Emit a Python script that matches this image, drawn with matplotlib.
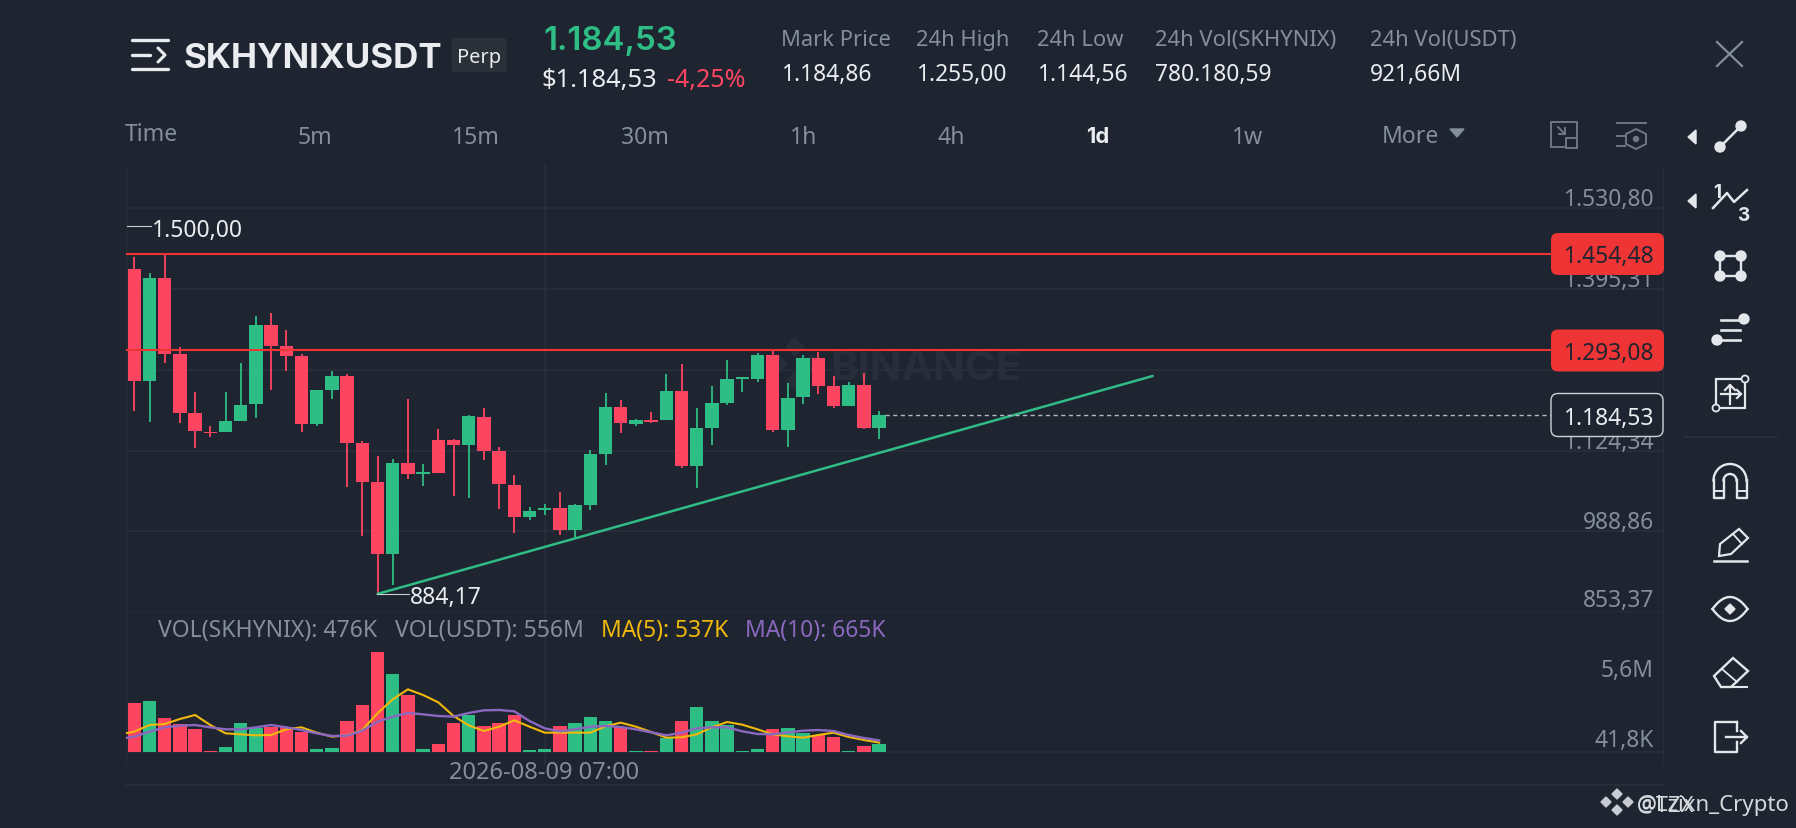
import matplotlib
matplotlib.use("Agg")
import matplotlib.pyplot as plt
from matplotlib.patches import FancyBboxPatch, Circle, Polygon, Rectangle
import numpy as np

plt.rcParams['font.family'] = ['Noto Sans', 'DejaVu Sans']
BOLD = ['Inter', 'DejaVu Sans']

W, H = 1796, 828
BG = '#1e2530'; GRID = '#2a303b'; RED = '#fd4561'; GREEN = '#2ebd85'
LINE_RED = '#ee3434'; GREY = '#848e9c'; LIGHT = '#eaecef'; YEL = '#f0b90b'; PUR = '#8a68c0'

# --- data ---
body_top = [1429.0,1413.4,1413.4,1286.5,1187.0,1156.3,1173.6,1201.5,1335.1,1335.1,
            1299.3,1283.1,1225.6,1249.0,1249.0,1136.7,1071.3,1103.2,1103.2,1088.1,
            1142.9,1142.9,1182.0,1181.4,1123.3,1067.4,1023.8,1028.3,1028.8,1033.3,
            1118.3,1197.6,1197.6,1175.3,1175.3,1225.0,1225.0,1161.9,1204.3,1244.6,
            1247.9,1285.4,1285.4,1212.7,1280.3,1280.3,1233.4,1235.1,1235.1,1184.53]
body_bottom = [1241.2,1241.2,1287.1,1188.1,1156.8,1153.5,1155.1,1174.7,1202.1,1299.3,
               1283.7,1169.1,1169.1,1226.1,1137.8,1071.9,951.7,951.7,1085.9,1085.9,
               1087.0,1133.3,1133.3,1123.9,1068.0,1012.6,1012.6,1024.9,990.8,990.8,
               1033.9,1118.8,1170.2,1169.7,1172.5,1175.3,1098.7,1098.7,1162.4,1204.9,
               1245.1,1245.1,1159.1,1159.1,1213.8,1233.0,1199.3,1199.3,1163.0,1163.0]
highs = [1448.6,1421.7,1454.2,1298.8,1222.2,1165.8,1223.3,1270.8,1350.8,1354.7,
         1326.7,1285.9,1226.1,1257.4,1253.5,1141.2,1114.9,1109.9,1210.5,1102.6,
         1160.7,1143.4,1183.6,1195.9,1130.0,1083.6,1030.0,1034.4,1055.7,1035.0,
         1125.0,1221.1,1208.8,1178.1,1188.7,1253.0,1269.7,1195.4,1232.8,1277.0,
         1248.5,1288.7,1291.0,1237.9,1284.8,1289.8,1249.6,1239.5,1254.1,1190.9]
lows = [1190.9,1173.0,1272.0,1171.4,1128.9,1146.8,1155.1,1173.6,1179.8,1226.1,
        1257.4,1156.3,1165.8,1210.5,1062.9,981.9,884.17,899.7,1077.5,1065.7,
        1087.0,1048.4,1045.6,1108.8,1026.0,986.9,1008.2,1016.0,982.4,977.4,
        1024.4,1099.8,1154.6,1166.3,1170.2,1175.3,1094.8,1062.4,1134.5,1201.0,
        1222.8,1239.5,1156.3,1130.6,1202.1,1219.4,1195.4,1199.3,1161.3,1144.5]
is_up = [0,1,0,0,0,0,1,1,1,0,0,0,1,1,0,0,0,1,0,1,0,0,1,0,0,
         0,1,1,0,1,1,1,0,1,0,1,0,1,1,1,1,1,0,1,1,0,0,1,0,1]
volume_k = [2789,2903,1929,1585,1318,42,287,1681,1394,1413,1413,1127,191,248,1795,
            2712,5711,4469,3247,153,439,1662,2139,1509,1643,2120,134,172,1471,1681,
            1986,1795,1433,42,42,783,1757,2598,1795,1528,42,191,1318,1356,1070,
            974,860,30,344,476]
ma5_k = [1165,1547,1604,1891,2120,1547,1070,1012,955,974,1299,1413,1108,879,955,
         1261,2216,3018,3591,3266,2846,2063,1528,1203,1452,1815,1452,1108,1108,1108,
         1108,1471,1681,1452,1146,821,840,1012,1413,1719,1566,1299,1012,898,821,
         974,1108,860,688,537]
ma10_k = [879,1165,1413,1509,1547,1413,1299,1299,1413,1547,1413,1261,1070,917,936,
          1222,1738,2025,2235,2158,2063,2025,2235,2388,2407,2330,1776,1356,1184,1299,
          1452,1490,1433,1299,1127,955,1108,1356,1413,1413,1184,1031,1012,1127,1222,
          1261,1203,974,802,665]
ma5_left_edge = 1070
ma10_left_edge = 800
grid_prices = [1530.80,1395.31,1259.83,1124.34,988.86,853.37]
axis_labels = ['1.530,80','1.395,31','','1.124,34','988,86','853,37']
resistance = [1454.48,1293.08]
resistance_labels = ['1.454,48','1.293,08']
last_price = 1184.53
trend_x = [16,67]; trend_y = [884.17,1249.6]
stat_labels = ['Mark Price','24h High','24h Low','24h Vol(SKHYNIX)','24h Vol(USDT)']
stat_values = ['1.184,86','1.255,00','1.144,56','780.180,59','921,66M']
stat_x = [781,916,1037,1155,1370]
tabs = ['5m','15m','30m','1h','4h','1d','1w']
tab_x = [315,476,645,804,951,1098,1248]

fig = plt.figure(figsize=((W+0.01)/100,(H+0.01)/100),dpi=100,facecolor=BG)
def axpx(l,t,r,b,**k):
    return fig.add_axes([l/W,1-b/H,(r-l)/W,(b-t)/H],**k)

# background layer for the faint watermark
bg = fig.add_axes([0,0,1,1],facecolor='none',zorder=0)
bg.set_xlim(0,W); bg.set_ylim(H,0); bg.axis('off')

# geometry: x px = 134.3 + 15.2*i
L,R = 125.7,1664.0
xlim = ((L-134.3)/15.2,(R-134.3)/15.2)
ax = axpx(L,165,R,612.3,facecolor='none',zorder=2)
ax.set_xlim(*xlim); ax.set_ylim(853.37,1530.8+(208.3-165)*1.6766)
vol = axpx(L,612.3,R,765,facecolor='none',zorder=2)
vol.set_xlim(*xlim); vol.set_ylim(-13*57.3,139.7*57.3+0.3)
for a in (ax,vol):
    a.set_xticks([]); a.set_yticks([])
    for s in a.spines.values(): s.set_visible(False)
ov = fig.add_axes([0,0,1,1],facecolor='none',zorder=5)
ov.set_xlim(0,W); ov.set_ylim(H,0); ov.axis('off')

def T(x,y,s,px,c=GREY,ha='left',w='normal',z=6,on=None,**k):
    return (on or ov).text(x,y,s,fontsize=px*0.72,color=c,ha=ha,va='center_baseline',fontweight=w,zorder=z,**k)

# grid
for p in grid_prices:
    ax.axhline(p,color=GRID,lw=1.1,zorder=1)
for a in (ax,vol):
    a.axvline(27,color=GRID,lw=1.1,zorder=1)
    a.axvline(xlim[0],color=GRID,lw=1.4,zorder=1)
    a.axvline(xlim[1],color=GRID,lw=1.4,zorder=1)
vol.axhline(0,color=GRID,lw=1.1,zorder=1)
ov.plot([L,R],[785,785],color=GRID,lw=1.1)

# watermark
WM = '#272e39'
T(830,365,'BINANCE',42,WM,w='bold',on=bg,family=BOLD)
for dx,dy in [(0,-17),(-17,0),(17,0),(0,17)]:
    bg.add_patch(Polygon([(795+dx,364+dy-9),(795+dx+9,364+dy),(795+dx,364+dy+9),(795+dx-9,364+dy)],color=WM))

# candles
idx = list(range(len(highs)))
for i in idx:
    c = GREEN if is_up[i] else RED
    ax.vlines(i,lows[i],highs[i],color=c,lw=1.3,zorder=3)
    ax.bar(i,body_top[i]-body_bottom[i],bottom=body_bottom[i],width=0.875,color=c,lw=0,zorder=3)

# lines
for p in resistance:
    ax.axhline(p,color=LINE_RED,lw=1.5,zorder=4)
ax.plot(trend_x,trend_y,color=GREEN,lw=1.8,zorder=4,solid_capstyle='round')
ax.plot([49.4,100.7],[last_price,last_price],color='#b4bac2',lw=1.0,ls=(0,(3,2.5)),zorder=4)

# volume
for i in idx:
    vol.bar(i,volume_k[i],width=0.875,color=GREEN if is_up[i] else RED,lw=0,zorder=3)
vol.plot([xlim[0]]+idx,[ma5_left_edge]+ma5_k,color=YEL,lw=1.5,zorder=4)
vol.plot([xlim[0]]+idx,[ma10_left_edge]+ma10_k,color=PUR,lw=1.7,zorder=4)

# axis labels
AX_PX = 22.8; AX_R = 1654
for s,y in zip(axis_labels,[197,278,0,440,520,598]):
    if s: T(AX_R,y,s,AX_PX,GREY,ha='right',z=4)
T(AX_R,668,'5,6M',AX_PX,GREY,ha='right')
T(AX_R,738,'41,8K',AX_PX,GREY,ha='right')
T(544,770,'2026-08-09 07:00',23.7,GREY,ha='center')

# price tags
for p,s in zip(resistance,resistance_labels):
    yc = 254 if p>1400 else 350.5
    ov.add_patch(FancyBboxPatch((1551,yc-21),113,42,boxstyle='round,pad=0,rounding_size=7',lw=0,color=LINE_RED,zorder=5))
    T(AX_R,yc,s,AX_PX,BG,ha='right')
ov.add_patch(FancyBboxPatch((1551,393.5),112,43,boxstyle='round,pad=0,rounding_size=7',lw=1,ec='#cfd3d8',fc=BG,zorder=5))
T(AX_R,416,'1.184,53',AX_PX,LIGHT,ha='right')
# marks
T(152,228,'1.500,00',23,LIGHT)
ov.plot([127,151],[226,226],color='#c8ccd2',lw=0.8)
T(410,595,'884,17',23,LIGHT)
ov.plot([377,409],[594,594],color='#c8ccd2',lw=0.8)

# legend
T(158,628,'VOL(SKHYNIX): 476K',23,GREY)
T(395,628,'VOL(USDT): 556M',23,GREY)
T(600.5,628,'MA(5): 537K',22.8,YEL)
T(745,628,'MA(10): 665K',22.8,PUR)

# header
for yy,x1 in [(40,168),(55,150),(69,168)]:
    ov.plot([132,x1],[yy,yy],color=LIGHT,lw=2.4,solid_capstyle='round')
ov.plot([157,165,157],[47,55,63],color=BG,lw=5)
ov.plot([158,165,158],[48,55,62],color=LIGHT,lw=2.2,solid_capstyle='round')
T(183,55,'SKHYNIXUSDT',35,LIGHT,w='bold',family=BOLD)
ov.add_patch(FancyBboxPatch((451.5,38),55,34,boxstyle='round,pad=0,rounding_size=3',lw=0,color='#2b3139',zorder=5))
T(479,55,'Perp',20,LIGHT,ha='center')
T(543,38,'1.184,53',33,GREEN,w='semibold',family=BOLD)
T(541,77,'$1.184,53',25.5,LIGHT)
T(667,77,'-4,25%',25,RED)
for x,a,b in zip(stat_x,stat_labels,stat_values):
    T(x,38,a,22,GREY)
    T(x,72,b,22.8,LIGHT)
ov.plot([1717,1742],[42,66],color=GREY,lw=1.6); ov.plot([1717,1742],[66,42],color=GREY,lw=1.6)

# tabs
T(125,132,'Time',23,GREY)
for s,x in zip(tabs,tab_x):
    sel = s=='1d'
    T(x,135,s,22 if sel else 23,LIGHT if sel else GREY,ha='center',w='bold' if sel else 'normal',
      **({'family':BOLD} if sel else {}))
T(1382,134,'More',23,GREY)
ov.add_patch(Polygon([(1450,129),(1464,129),(1457,137)],color=GREY,zorder=5))

# small header icons
ic = '#6f7785'
ov.plot([1565,1551,1551,1577,1577],[147,147,122,122,136],color=ic,lw=1.4)
ov.add_patch(Rectangle((1566,138),11,10,fc=BG,ec=ic,lw=1.4,zorder=5))
ov.plot([1558,1565],[127,134],color=ic,lw=1.4); ov.plot([1565,1565,1559],[128,134,134],color=ic,lw=1.4)
ov.plot([1617,1646],[123,123],color=ic,lw=1.4)
ov.plot([1617,1625],[136,136],color=ic,lw=1.4); ov.plot([1617,1625],[146,146],color=ic,lw=1.4)
ov.add_patch(Polygon([(1636,129),(1646,134),(1646,144),(1636,149),(1626,144),(1626,134)],fc=BG,ec=ic,lw=1.4,zorder=5))
ov.add_patch(Circle((1636,139),2.5,color=ic,zorder=6))

# side toolbar
TL = '#e3e6ea'
ov.plot([1684,1777],[437,437],color=GRID,lw=1.3)
for y in (137,201):
    ov.add_patch(Polygon([(1688,y),(1696,y-7),(1696,y+7)],color=TL,zorder=5))
def dot(x,y,r=5): ov.add_patch(Circle((x,y),r,color=TL,zorder=6))
ov.plot([1720,1741],[147,126],color=TL,lw=1.8); dot(1720,147); dot(1741,126)
ov.plot([1713,1727,1734,1747],[208,193,202,190],color=TL,lw=1.8)
T(1717,191,'1',19,TL,ha='center',w='bold',family=BOLD); T(1743,214,'3',19,TL,ha='center',w='bold',family=BOLD)
ov.add_patch(Rectangle((1720,256),21,20,fc='none',ec=TL,lw=1.7,zorder=5))
for a,b in [(1720,256),(1741,256),(1720,276),(1741,276)]: dot(a,b,5)
ov.plot([1721,1742],[320,320],color=TL,lw=1.9); ov.plot([1721,1740],[330,330],color=TL,lw=1.9); ov.plot([1717,1740],[340,340],color=TL,lw=1.9)
dot(1744,319); dot(1717,340)
ov.add_patch(Rectangle((1716,379),29,29,fc='none',ec=TL,lw=1.6,zorder=5))
ov.add_patch(Circle((1745,379),3.5,fc=BG,ec=TL,lw=1.3,zorder=6)); ov.add_patch(Circle((1716,408),3.5,fc=BG,ec=TL,lw=1.3,zorder=6))
ov.plot([1730,1730],[385,404],color=TL,lw=1.6); ov.plot([1721,1741],[394,394],color=TL,lw=1.6)
ov.plot([1725,1730,1735],[390,385,390],color=TL,lw=1.6); ov.plot([1737,1741,1737],[390,394,398],color=TL,lw=1.6)
# magnet
th = np.linspace(np.pi,0,40)
ov.plot(1730+16.5*np.cos(th),480.5-16.5*np.sin(th),color=TL,lw=1.7)
ov.plot(1730+6.5*np.cos(th),480.5-6.5*np.sin(th),color=TL,lw=1.7)
for x0,x1 in [(1713.5,1723.5),(1736.5,1746.5)]:
    ov.plot([x0,x0,x1,x1],[480,498,498,480],color=TL,lw=1.7)
    ov.plot([x0,x1],[491,491],color=TL,lw=1.4)
# pencil
ov.plot([1714,1747],[561,561],color=TL,lw=1.8)
ov.add_patch(Polygon([(1720,544),(1739,529),(1748,538),(1731,554),(1719,556)],fc='none',ec=TL,lw=1.6,zorder=5))
ov.plot([1733,1742],[534,544],color=TL,lw=1.3)
# eye
tt = np.linspace(-1,1,30)
ov.plot(1730+17.5*tt,609-12*(1-tt**2),color=TL,lw=1.7); ov.plot(1730+17.5*tt,609+12*(1-tt**2),color=TL,lw=1.7)
ov.add_patch(Polygon([(1730,604),(1735,609),(1730,614),(1725,609)],color=TL,zorder=5))
# eraser
ov.add_patch(Polygon([(1714,676),(1733,658),(1748,671),(1731,687),(1721,687)],fc='none',ec=TL,lw=1.7,zorder=5))
ov.plot([1722,1737],[669,682],color=TL,lw=1.3); ov.plot([1731,1747],[687,687],color=TL,lw=1.5)
# exit
ov.plot([1737,1715,1715,1737,1737],[722,722,752,752,742],color=TL,lw=1.7)
ov.plot([1737,1737],[722,731],color=TL,lw=1.7)
ov.plot([1726,1747],[737,737],color=TL,lw=1.7); ov.plot([1741,1747,1741],[731,737,743],color=TL,lw=1.7)

# watermark bottom right
for dx,dy in [(0,-8),(-11,0),(11,0),(0,8)]:
    ov.add_patch(Polygon([(1617+dx,802+dy-5),(1617+dx+5,802+dy),(1617+dx,802+dy+5),(1617+dx-5,802+dy)],color='#c8ccd2',zorder=5))
T(1637,803,'@TZX',22,'#d5d8dc')
T(1637,803,'@Lzixn_Crypto',22.2,'#d5d8dc')

fig.savefig('out.png',dpi=100,facecolor=BG)
